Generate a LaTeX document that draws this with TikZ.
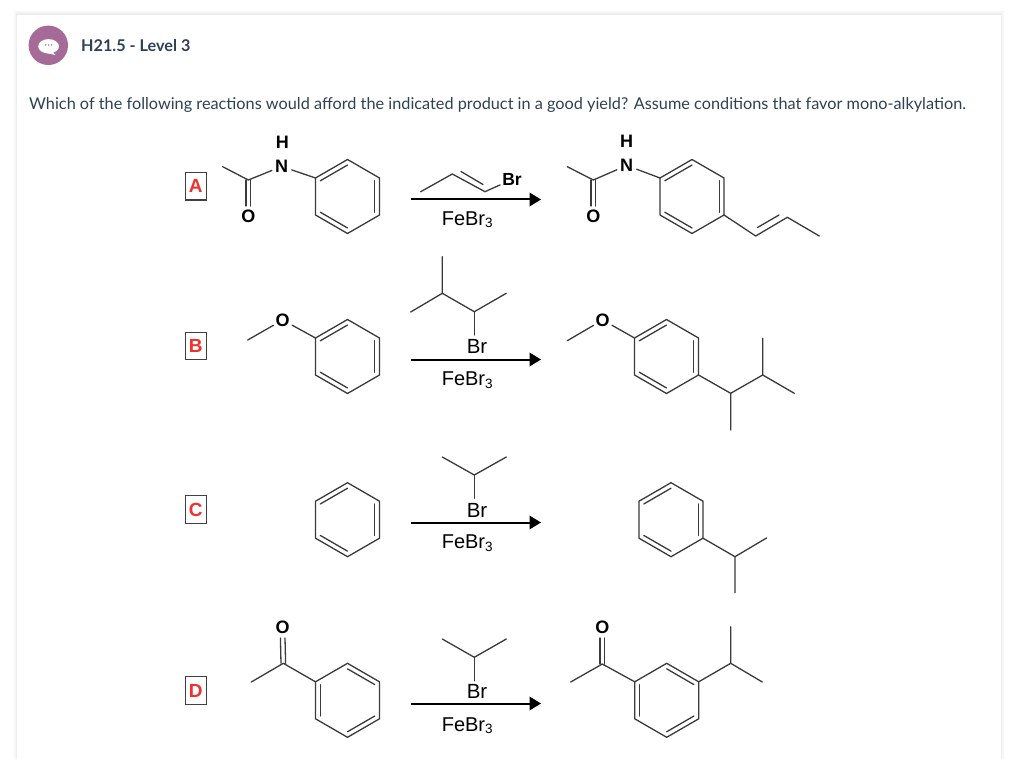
\documentclass[tikz,border=0pt]{standalone}
\usepackage{fontspec}
\setmainfont{Liberation Sans}
\newfontfamily\uifont{Lato}
\usetikzlibrary{calc,arrows.meta}
\definecolor{ink}{HTML}{3A3A3A}
\definecolor{uitext}{HTML}{2F4155}
\definecolor{badgepurple}{HTML}{A56A98}
\definecolor{optred}{HTML}{F0322E}
\newcommand{\fs}[1]{\fontsize{#1}{#1}\selectfont}
\newcommand{\benz}[3]{%
  \coordinate (#1c) at (#2,#3);
  \coordinate (#11) at (#2,#3-37);
  \coordinate (#12) at (#2+32,#3-18.5);
  \coordinate (#13) at (#2+32,#3+18.5);
  \coordinate (#14) at (#2,#3+37);
  \coordinate (#15) at (#2-32,#3+18.5);
  \coordinate (#16) at (#2-32,#3-18.5);
  \draw[bond] (#11) -- (#12) -- (#13) -- (#14) -- (#15) -- (#16) -- cycle;}
\newcommand{\dbl}[3]{\draw[bond] ($(#2)!.15!(#1c)$) -- ($(#3)!.15!(#1c)$);}
\newcommand{\kekA}[1]{\dbl{#1}{#16}{#11}\dbl{#1}{#12}{#13}\dbl{#1}{#15}{#14}}
\newcommand{\kekD}[1]{\dbl{#1}{#11}{#12}\dbl{#1}{#13}{#14}\dbl{#1}{#15}{#16}}
\newcommand{\febr}{FeBr\raisebox{-2.5pt}{\fs{13.5}3}}
\tikzset{
  bond/.style={draw=ink,line width=1.3pt,line join=round,line cap=round},
  atom/.style={circle,inner sep=0pt,minimum size=21pt,font=\bfseries\fs{18},text=black},
  brlabel/.style={inner sep=0pt,font=\fs{20.5},text=black},
  reagent/.style={inner sep=0pt,font=\fs{20},text=black},
  optbox/.style={draw=black!75,line width=1.1pt,minimum width=21.5pt,minimum height=27.5pt,inner sep=0pt,font=\bfseries\fs{19},text=optred},
  rxn/.style={line width=2pt,draw=black,-{Triangle[length=11.5pt,width=13.5pt]}}
}
\begin{document}
\begin{tikzpicture}[x=1pt,y=-1pt]
\path[use as bounding box,clip] (0,0) rectangle (1024,759);
\fill[white] (0,0) rectangle (1024,759);
% card
\draw[draw=black!3,line width=5pt] (16.5,14) rectangle (1001.5,790);
\draw[draw=black!7,fill=white,line width=1.5pt] (16.5,14) rectangle (1001.5,790);
% header
\node[circle,fill=badgepurple,minimum size=39.4pt,inner sep=0pt] (badge) at (48.3,45.3) {};
\fill[white] (48.6,46.3) ellipse [x radius=10.4,y radius=7.2];
\fill[white] (51,50) -- (55.5,55) -- (46,53) -- cycle;
\foreach \dx in {-3,0,3}{\fill[badgepurple] (48.7+\dx,45) circle [radius=0.8];}
\node[anchor=base west,inner sep=0pt,text=uitext,font=\uifont\bfseries\fs{16.2}] (title) at (81,52) {H21.5 - Level 3};
\node[anchor=base west,inner sep=0pt,text=uitext,font=\uifont\fs{16.27}] (question) at (29,110) {Which of the following reactions would afford the indicated product in a good yield? Assume conditions that favor mono-alkylation.};

% Row A
\node[optbox] (boxA) at (195.8,186.3) {A};
\benz{ra}{347.5}{196.5}\kekA{ra}
\node[atom] (naH) at (282.3,142.3) {H};
\node[atom] (na) at (281.7,166.5) {N};
\node[atom] (oa) at (248.3,216.7) {O};
\coordinate (caa) at (248.3,180);
\coordinate (mea) at (222.7,166.7);
\draw[bond] (mea) -- (caa) -- (na);
\draw[bond] (na) -- (ra6);
\draw[bond] ([xshift=-2.3pt]caa) -- ([xshift=-2.3pt]oa.north);
\draw[bond] ([xshift=2.3pt]caa) -- ([xshift=2.3pt]oa.north);
% allyl bromide
\node[inner sep=2pt,font=\bfseries\fs{17.5},text=black] (bra) at (512,179.5) {Br};
\coordinate (al1) at (420.7,191.7);
\coordinate (al2) at (452.3,174);
\coordinate (al3) at (485,191.7);
\draw[bond] (al1) -- (al2) -- (al3) -- (bra);
\draw[bond] (461,171.5) -- (483,184.5);
\coordinate (arA1) at (410.7,199.5);
\coordinate (arA2) at (541,199.5);
\draw[rxn] (arA1) -- (arA2);
\node[reagent] (feA) at (467.2,219.5) {\febr};
% product A
\benz{pa}{692}{196.5}\kekA{pa}
\node[atom] (npH) at (626.7,141.7) {H};
\node[atom] (np) at (626.7,165.5) {N};
\node[atom] (op) at (593.3,216.7) {O};
\coordinate (cap) at (593.3,180);
\coordinate (mep) at (567.3,166.7);
\draw[bond] (mep) -- (cap) -- (np);
\draw[bond] (np) -- (pa6);
\draw[bond] ([xshift=-2.3pt]cap) -- ([xshift=-2.3pt]op.north);
\draw[bond] ([xshift=2.3pt]cap) -- ([xshift=2.3pt]op.north);
\coordinate (pv1) at (755.7,236);
\coordinate (pv2) at (787.3,217.3);
\coordinate (pv3) at (819.3,236);
\draw[bond] (pa3) -- (pv1) -- (pv2) -- (pv3);
\draw[bond] (757.5,227.5) -- (779,215);

% Row B
\node[optbox] (boxB) at (195.8,346) {B};
\benz{rb}{347.5}{356.5}\kekA{rb}
\node[atom] (ob) at (282.7,320) {O};
\coordinate (meb) at (247.7,340);
\draw[bond] (meb) -- (ob) -- (rb6);
\coordinate (b1) at (442.3,256.7);
\coordinate (b2) at (442.3,293.3);
\coordinate (b3) at (410.7,312);
\coordinate (b4) at (474.3,311.7);
\coordinate (b5) at (506.3,293.3);
\node[brlabel] (brb) at (477,346) {Br};
\draw[bond] (b1) -- (b2) -- (b3);
\draw[bond] (b2) -- (b4) -- (b5);
\draw[bond] (b4) -- (474.3,335);
\coordinate (arB1) at (410.7,359.5);
\coordinate (arB2) at (541,359.5);
\draw[rxn] (arB1) -- (arB2);
\node[reagent] (feB) at (467.2,380) {\febr};
\benz{pb}{666.5}{356.5}\kekA{pb}
\node[atom] (opb) at (602.7,320) {O};
\coordinate (mepb) at (567.3,340.7);
\draw[bond] (mepb) -- (opb) -- (pb6);
\coordinate (pb7) at (730.7,393.3);
\coordinate (pb8) at (730.7,430);
\coordinate (pb9) at (762.7,375);
\coordinate (pb10) at (762.7,338.3);
\coordinate (pb11) at (794.3,393.3);
\draw[bond] (pb3) -- (pb7) -- (pb8);
\draw[bond] (pb7) -- (pb9) -- (pb10);
\draw[bond] (pb9) -- (pb11);

% Row C
\node[optbox] (boxC) at (195.8,509.5) {C};
\benz{rc}{347.5}{519.7}\kekA{rc}
\coordinate (c1) at (442.3,457);
\coordinate (c2) at (474.3,475);
\coordinate (c3) at (506.3,457);
\node[brlabel] (brc) at (477,510) {Br};
\draw[bond] (c1) -- (c2) -- (c3);
\draw[bond] (c2) -- (474.3,498.3);
\coordinate (arC1) at (410.7,522.5);
\coordinate (arC2) at (541,522.5);
\draw[rxn] (arC1) -- (arC2);
\node[reagent] (feC) at (467.2,543) {\febr};
\benz{pc}{671}{519.7}\kekA{pc}
\coordinate (pc7) at (735,556.7);
\coordinate (pc8) at (735,592.7);
\coordinate (pc9) at (766.5,538);
\draw[bond] (pc3) -- (pc7) -- (pc8);
\draw[bond] (pc7) -- (pc9);

% Row D
\node[optbox] (boxD) at (195.8,690.5) {D};
\benz{rd}{347.5}{700.3}\kekD{rd}
\node[atom] (od) at (282.7,627.3) {O};
\coordinate (cad) at (283.3,663.3);
\coordinate (med) at (251.3,682);
\draw[bond] (med) -- (cad) -- (rd6);
\draw[bond] ([xshift=-2.3pt]cad) -- ([xshift=-2.3pt]od.south);
\draw[bond] ([xshift=2.3pt]cad) -- ([xshift=2.3pt]od.south);
\coordinate (d1) at (442.3,639);
\coordinate (d2) at (474.3,657.3);
\coordinate (d3) at (506.3,639);
\node[brlabel] (brd) at (477,691) {Br};
\draw[bond] (d1) -- (d2) -- (d3);
\draw[bond] (d2) -- (474.3,680.7);
\coordinate (arD1) at (410.7,703.5);
\coordinate (arD2) at (541,703.5);
\draw[rxn] (arD1) -- (arD2);
\node[reagent] (feD) at (467.2,725.7) {\febr};
\benz{pd}{666.7}{700.3}\kekD{pd}
\node[atom] (opd) at (602.3,627.3) {O};
\coordinate (capd) at (602.3,664);
\coordinate (mepd) at (570.7,682);
\draw[bond] (mepd) -- (capd) -- (pd6);
\draw[bond] ([xshift=-2.3pt]capd) -- ([xshift=-2.3pt]opd.south);
\draw[bond] ([xshift=2.3pt]capd) -- ([xshift=2.3pt]opd.south);
\coordinate (pd7) at (730.7,663.3);
\coordinate (pd8) at (730.7,626.7);
\coordinate (pd9) at (762.3,682);
\draw[bond] (pd2) -- (pd7) -- (pd8);
\draw[bond] (pd7) -- (pd9);
\end{tikzpicture}
\end{document}
